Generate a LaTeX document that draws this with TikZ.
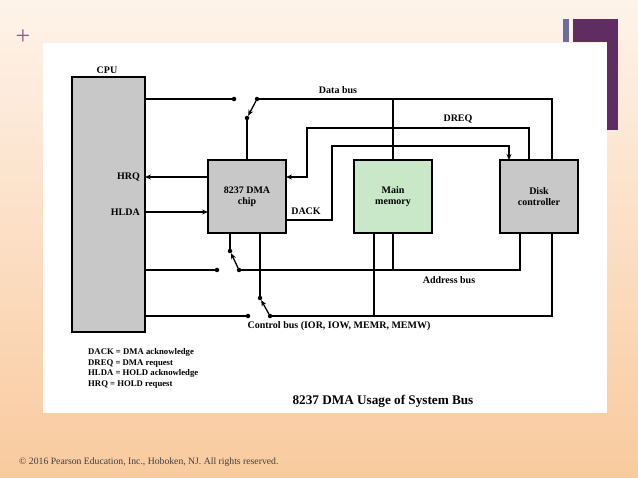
\documentclass[tikz,border=0pt]{standalone}
\usepackage{fontspec}
\setmainfont{Liberation Serif}
\usetikzlibrary{arrows.meta}
\definecolor{peach}{HTML}{F9CA9E}
\definecolor{peachtop}{HTML}{FEF3EA}
\definecolor{plum}{HTML}{5F2D62}
\definecolor{slate}{HTML}{6B6E9A}
\definecolor{boxgray}{HTML}{C8C8C8}
\definecolor{memgreen}{HTML}{C8E8C8}
\tikzset{
  blk/.style={draw=black,line width=1.2pt,minimum width=78pt,minimum height=73pt,align=center,font=\bfseries\fontsize{10}{11.5}\selectfont,inner sep=0pt},
  bus/.style={draw=black,line width=1.3pt},
  arr/.style={bus,-{Stealth[length=6pt,width=5pt]}},
  dot/.style={circle,fill=black,inner sep=0pt,minimum size=4.5pt},
  lbl/.style={font=\bfseries\fontsize{10}{11.5}\selectfont,inner sep=0pt},
}
\begin{document}
\begin{tikzpicture}[x=1pt,y=-1pt]
\useasboundingbox (0,0) rectangle (638,478);
\shade[top color=peachtop,bottom color=peach] (0,0) rectangle (638,478);
\fill[white] (43,43) rectangle (607,413);
\fill[slate] (563,19) rectangle (569,42);
\fill[plum] (573,19) rectangle (618,42);
\fill[plum] (607,19) rectangle (618,130);
\node[text=plum!75,font=\fontsize{26}{26}\selectfont,inner sep=0pt] (plus) at (23,37) {+};
\node[anchor=west,text=black!75,font=\fontsize{9.7}{11}\selectfont,inner sep=0pt] (foot) at (19,462) {© 2016 Pearson Education, Inc., Hoboken, NJ. All rights reserved.};

% blocks
\node[draw=black,line width=1.2pt,fill=boxgray,minimum width=73pt,minimum height=255pt,inner sep=0pt] (cpu) at (108.5,204.5) {};
\node[lbl] (cpul) at (107,70) {CPU};
\node[blk,fill=boxgray] (dma) at (247,196.5) {8237 DMA\\chip};
\node[blk,fill=memgreen] (mem) at (393,196.5) {Main\\memory};
\node[blk,fill=boxgray] (disk) at (539,196.5) {Disk\\controller};

% switch coordinates
\node[dot] (d1) at (234,99) {}; \node[dot] (d2) at (257,99) {}; \node[dot] (d3) at (247,118) {};
\node[dot] (a1) at (217,270) {}; \node[dot] (a2) at (239,270) {}; \node[dot] (a3) at (230,251) {};
\node[dot] (c1) at (248,316) {}; \node[dot] (c2) at (270,316) {}; \node[dot] (c3) at (260,298) {};

% data bus
\draw[bus] (cpu.east |- d1) -- (d1);
\draw[bus] (d2) -- (552,99) -- (552,160);
\draw[bus] (393,99) -- (mem.north);
\draw[bus] (dma.north) -- (d3);
\draw[arr] (d2) -- (d3);
\node[lbl] (dbl) at (338,90) {Data bus};

% address bus
\draw[bus] (cpu.east |- a1) -- (a1);
\draw[bus] (a2) -- (520,270) -- (520,233);
\draw[bus] (393,233) -- (393,270);
\draw[bus] (230,233) -- (a3);
\draw[arr] (a2) -- (a3);
\node[lbl] (abl) at (449,280) {Address bus};

% control bus
\draw[bus] (cpu.east |- c1) -- (c1);
\draw[bus] (c2) -- (552,316) -- (552,233);
\draw[bus] (374,233) -- (374,316);
\draw[bus] (260,233) -- (c3);
\draw[arr] (c2) -- (c3);
\node[lbl] (cbl) at (339,326) {Control bus (IOR, IOW, MEMR, MEMW)};

% DREQ / DACK
\draw[arr] (529,160) -- (529,128) -- (307,128) -- (307,177) -- (286,177);
\node[lbl] (drq) at (458,119) {DREQ};
\draw[arr] (286,220) -- (332,220) -- (332,146) -- (509,146) -- (509,160);
\node[lbl] (dck) at (306,211) {DACK};

% HRQ / HLDA
\draw[arr] (208,177) -- (145,177);
\draw[arr] (145,212) -- (208,212);
\node[lbl,anchor=east] (hrq) at (140,177) {HRQ};
\node[lbl,anchor=east] (hlda) at (140,212) {HLDA};

% legend
\node[anchor=north west,align=left,font=\bfseries\fontsize{8.7}{10.8}\selectfont,inner sep=0pt] (leg) at (88,348)
{DACK = DMA acknowledge\\DREQ = DMA request\\HLDA = HOLD acknowledge\\HRQ = HOLD request};
\node[font=\bfseries\fontsize{13.2}{15}\selectfont,inner sep=0pt] (title) at (383,401) {8237 DMA Usage of System Bus};
\end{tikzpicture}
\end{document}
